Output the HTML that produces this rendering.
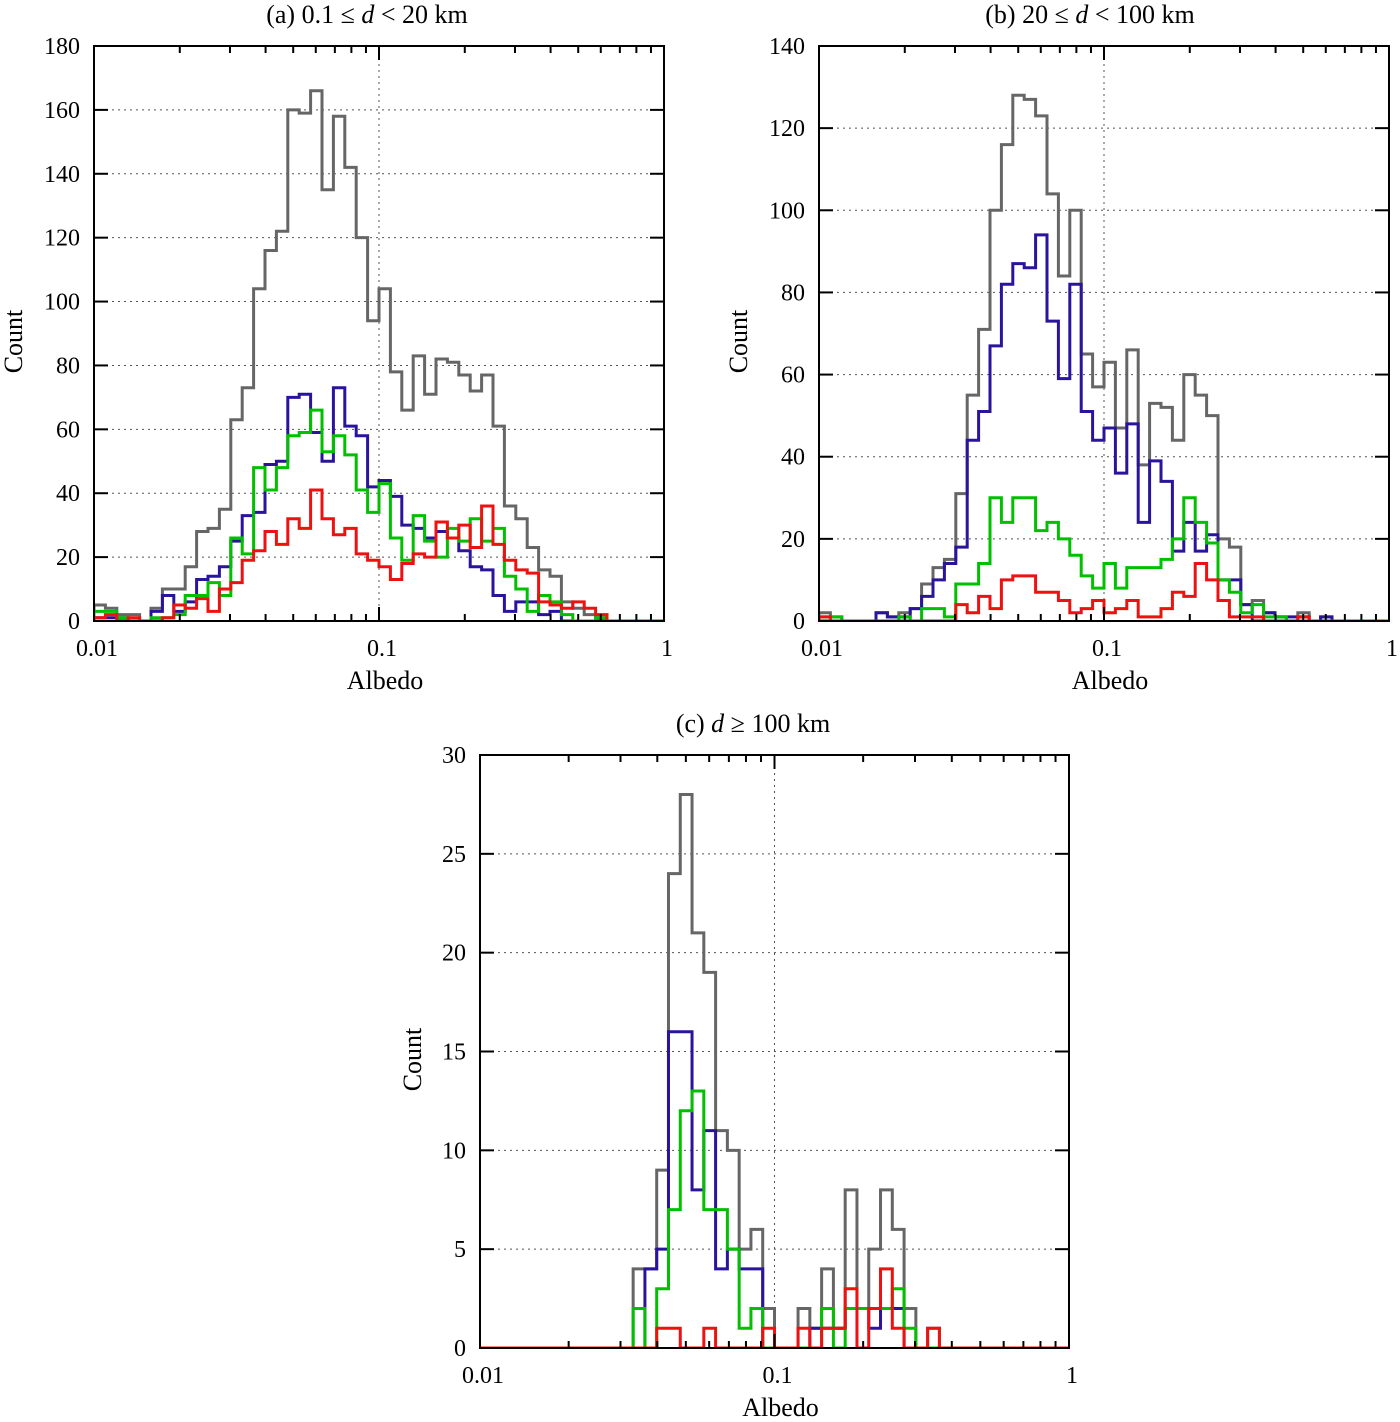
<!DOCTYPE html>
<html><head><meta charset="utf-8"><style>
html,body{margin:0;padding:0;background:#fff;}
svg{display:block;font-family:"Liberation Serif",serif;}
</style></head><body>
<svg id="fig" width="1400" height="1422" viewBox="0 0 1400 1422" xmlns="http://www.w3.org/2000/svg"></svg>
<script>
// ---- data (counts per 0.04-dex albedo bin from 0.01 to 1, 50 bins) ----
const binEdgesLog = [-2, 0]; // log10 range of the x axis
const nBins = 50;
const grayA = [5,4,2,2,0,4,10,10,17,28,29,35,63,73,104,116,122,160,159,166,135,158,142,120,94,104,78,66,83,71,82,81,77,72,77,61,36,32,23,16,14,6,4,2,1,0,0,0,0,0];
const blueA = [1,1,1,0,0,3,8,3,6,13,14,17,25,33,34,49,50,70,71,59,50,73,61,58,42,44,39,30,29,26,28,26,22,17,16,8,3,6,6,2,3,0,0,0,0,0,0,0,0,0];
const greenA = [3,3,1,0,0,1,1,2,8,8,12,8,26,21,48,41,48,58,59,66,53,58,52,41,34,43,26,19,33,25,20,29,25,32,25,29,14,10,3,8,6,2,0,0,1,0,0,0,0,0];
const redA = [1,2,0,1,0,0,1,5,4,7,3,10,12,19,22,28,24,32,29,41,32,27,29,21,19,17,13,18,21,20,31,26,30,23,36,24,19,16,15,6,5,4,6,4,2,0,0,0,0,0];

const grayB = [2,1,0,0,0,2,1,2,3,9,13,15,31,55,71,100,116,128,127,123,104,84,100,65,57,63,47,66,38,53,52,44,60,55,50,20,18,4,5,2,1,0,2,0,1,0,0,0,0,0];
const blueB = [0,0,0,0,0,2,1,1,3,6,10,14,18,44,51,67,82,87,86,94,73,59,82,51,44,47,36,48,24,39,34,17,24,17,21,10,10,4,0,2,1,1,1,0,1,0,0,0,0,0];
const greenB = [1,1,0,0,0,0,0,1,0,3,3,1,9,9,14,30,24,30,30,22,24,20,16,11,8,14,8,13,13,13,15,20,30,24,19,10,7,2,4,1,1,0,0,0,0,0,0,0,0,0];
const redB = [1,0,0,0,0,0,0,0,0,0,0,0,4,2,6,3,10,11,11,7,7,5,2,3,5,2,3,5,1,1,3,7,6,14,10,5,1,1,1,0,0,0,1,0,0,0,0,0,0,0];

const grayC = [0,0,0,0,0,0,0,0,0,0,0,0,0,4,4,9,24,28,21,19,11,10,5,6,2,0,0,2,1,4,1,8,2,5,8,6,2,0,1,0,0,0,0,0,0,0,0,0,0,0];
const blueC = [0,0,0,0,0,0,0,0,0,0,0,0,0,0,4,5,16,16,8,11,4,5,4,4,0,0,0,0,1,1,1,2,2,1,2,2,0,0,0,0,0,0,0,0,0,0,0,0,0,0];
const greenC = [0,0,0,0,0,0,0,0,0,0,0,0,0,2,0,3,7,12,13,7,7,5,1,2,0,0,0,0,0,2,0,2,2,2,2,3,1,0,0,0,0,0,0,0,0,0,0,0,0,0];
const redC = [0,0,0,0,0,0,0,0,0,0,0,0,0,0,0,1,1,0,0,1,0,0,0,0,1,0,0,1,0,1,1,3,0,2,4,1,0,0,1,0,0,0,0,0,0,0,0,0,0,0];

const yTicksA = [0,20,40,60,80,100,120,140,160,180];
const yTicksB = [0,20,40,60,80,100,120,140];
const yTicksC = [0,5,10,15,20,25,30];
const xTickLabels = ["0.01","0.1","1"];

const NS = "http://www.w3.org/2000/svg";
const svg = document.getElementById('fig');
function mk(tag, attrs, parent){
  const e = document.createElementNS(NS, tag);
  for (const k in attrs) e.setAttribute(k, attrs[k]);
  (parent||svg).appendChild(e);
  return e;
}
const colors = {gray:"#666666", blue:"#2b149c", green:"#00c000", red:"#ee1111"};

function panel(id, L, R, T, B, yTicks, series, title, titleX, titleY, ylabX, xlabY) {
  const g = mk('g', {});
  
  
  const ymax = yTicks[yTicks.length-1];
  const xs = lv => L + (lv - binEdgesLog[0]) / (binEdgesLog[1]-binEdgesLog[0]) * (R-L);
  const ys = v => B - v / ymax * (B-T);
  yTicks.forEach((t,i) => {
    if (i===0 || i===yTicks.length-1) return;
    const gl = mk('line', {x1:L, x2:R, y1:ys(t), y2:ys(t), stroke:"#555", 'stroke-width':1, 'stroke-dasharray':"2,4"}, g);
    
    
  });
  const vg = mk('line', {x1:xs(-1), x2:xs(-1), y1:T, y2:B, stroke:"#555", 'stroke-width':1, 'stroke-dasharray':"2,4"}, g);
  
  
  const clipId = 'clip-' + id;
  const cp = mk('clipPath', {id:clipId}, g);
  mk('rect', {x:L, y:T-2, width:R-L, height:B-T+2}, cp);
  const order = ['gray','blue','green','red'];
  order.forEach(name => {
    const vals = series[name];
    const w = (binEdgesLog[1]-binEdgesLog[0]) / nBins;
    let d = `M${xs(binEdgesLog[0])},${ys(0)}`;
    vals.forEach((v,i) => {
      const a = xs(binEdgesLog[0] + i*w), b = xs(binEdgesLog[0] + (i+1)*w);
      d += ` L${a.toFixed(2)},${ys(v).toFixed(2)} L${b.toFixed(2)},${ys(v).toFixed(2)}`;
    });
    d += ` L${xs(binEdgesLog[1])},${ys(0)}`;
    const p = mk('path', {d:d, fill:"none", stroke:colors[name], 'stroke-width':3, 'stroke-linejoin':"miter", 'clip-path':`url(#${clipId})`}, g);
    
    
  });
  const fr = mk('rect', {x:L, y:T, width:R-L, height:B-T, fill:"none", stroke:"#000", 'stroke-width':2}, g);
  
  
  yTicks.forEach(t => {
    const y = ys(t);
    mk('line', {x1:L, x2:L+14, y1:y, y2:y, stroke:"#000", 'stroke-width':2}, g);
    mk('line', {x1:R-14, x2:R, y1:y, y2:y, stroke:"#000", 'stroke-width':2}, g);
    const tx = mk('text', {x:L-14, y:y+8, 'text-anchor':"end", 'font-size':24}, g);
    tx.textContent = t;
    
    
  });
  for (let dec=-2; dec<=0; dec++) {
    for (let m=1; m<=9; m++) {
      const lv = dec + Math.log10(m);
      if (lv > 0.0001) break;
      const x = xs(lv);
      const len = m===1 ? 14 : 7;
      mk('line', {x1:x, x2:x, y1:B, y2:B-len, stroke:"#000", 'stroke-width':2}, g);
      mk('line', {x1:x, x2:x, y1:T, y2:T+len, stroke:"#000", 'stroke-width':2}, g);
      if (dec===0) break;
    }
  }
  xTickLabels.forEach((lab,i) => {
    const tx = mk('text', {x:xs(-2+i)+3, y:B+35, 'text-anchor':"middle", 'font-size':24}, g);
    tx.textContent = lab;
    
    
  });
  const xl = mk('text', {x:(L+R)/2+6, y:xlabY, 'text-anchor':"middle", 'font-size':26}, g);
  xl.textContent = "Albedo";
  
  
  const cy = (T+B)/2+8;
  const yl = mk('text', {x:ylabX, y:cy, 'text-anchor':"middle", 'font-size':26, transform:`rotate(-90 ${ylabX} ${cy})`}, g);
  yl.textContent = "Count";
  
  
  const tt = mk('text', {x:titleX, y:titleY, 'text-anchor':"middle", 'font-size':26}, g);
  tt.innerHTML = title;
  
  
}

panel('a', 94, 664, 46, 621, yTicksA, {gray:grayA, blue:blueA, green:greenA, red:redA},
  '(a) 0.1 ≤ <tspan font-style="italic">d</tspan> &lt; 20 km', 367, 23, 22, 689);
panel('b', 819, 1389, 46, 621, yTicksB, {gray:grayB, blue:blueB, green:greenB, red:redB},
  '(b) 20 ≤ <tspan font-style="italic">d</tspan> &lt; 100 km', 1090, 23, 747, 689);
panel('c', 480, 1069, 755, 1348, yTicksC, {gray:grayC, blue:blueC, green:greenC, red:redC},
  '(c) <tspan font-style="italic">d</tspan> ≥ 100 km', 753, 732, 421, 1416);
</script>
</body></html>
